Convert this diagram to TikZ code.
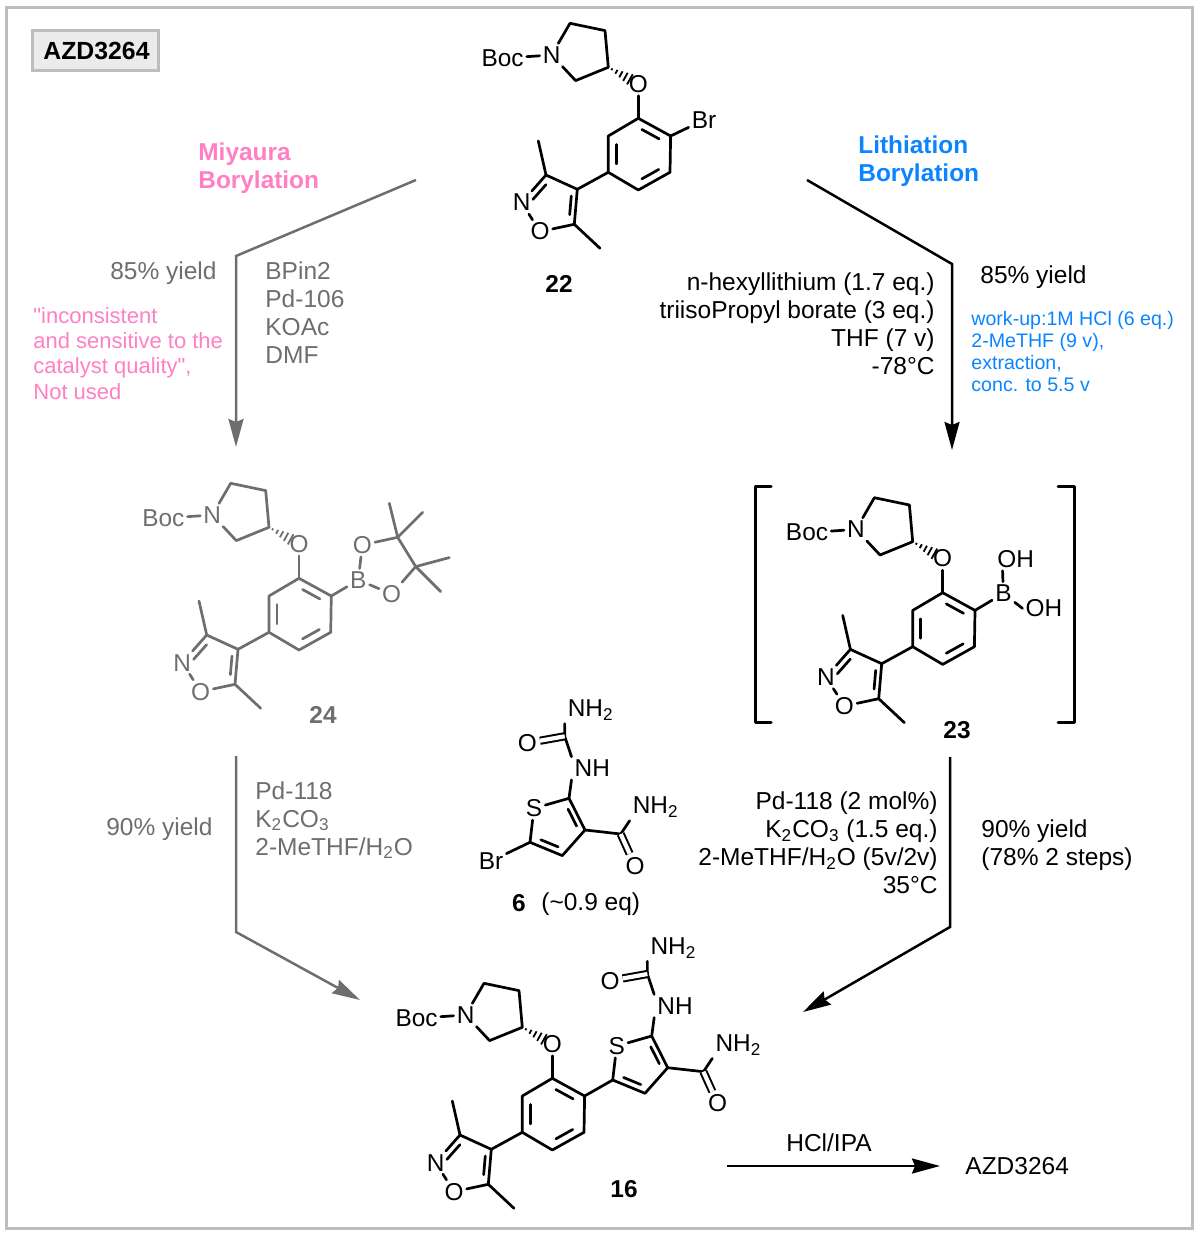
\documentclass[tikz,border=0pt]{standalone}
\usepackage{fontspec}
\setmainfont{Liberation Sans}
\newfontfamily\notefont{Liberation Sans}
\usetikzlibrary{calc}
\usetikzlibrary{arrows.meta}

\definecolor{molgrey}{HTML}{6E6E6E}
\definecolor{miyapink}{HTML}{FF7FC4}
\definecolor{lithblue}{HTML}{0A84FF}
\definecolor{framegrey}{HTML}{BDBDBD}

% inner line of a ring double bond
\newcommand{\ringdbl}[3]{\draw[bond] ($(#1)!.14!(#2)!.26!(#3)$) -- ($(#1)!.86!(#2)!.26!(#3)$);}

% hashed bond
\newcommand{\hashbond}[2]{%
\foreach \t/\w in {.12/.5,.27/1.1,.42/1.7,.57/2.3,.72/2.9}
\draw[hash] ($(#1)!\t!(#2)!\w pt!90:(#2)$) -- ($(#1)!\t!(#2)!\w pt!-90:(#2)$);}

% Boc-pyrrolidine, aryl ring and isoxazole; C1 of the ring at #1
\newcommand{\arylcore}[2]{%
\begin{scope}[shift={(#1)},name prefix=#2-]
\coordinate(ar1) at (0,0);
\coordinate(ar2) at (32.3,17.7);
\coordinate(ar3) at (31.7,54);
\coordinate(ar4) at (0,71.7);
\coordinate(ar5) at (-30,54);
\coordinate(ar6) at (-30,17.7);
\coordinate(arc) at (1,36);
\coordinate(pa) at (-68.3,-95);
\coordinate(pb) at (-33.3,-87.7);
\coordinate(cs) at (-30,-51);
\coordinate(pd) at (-62.7,-37.7);
\coordinate(isa) at (-61,71);
\coordinate(isb) at (-92.3,56.7);
\coordinate(isc) at (-64,106);
\coordinate(isz) at (-83,83);
\coordinate(mea) at (-100,22.7);
\coordinate(meb) at (-38.3,130);
\node[atom](boc) at (-135.7,-60){Boc};
\node[atom](pn) at (-86.7,-63.3){N};
\node[atom](oe) at (0,-34.3){O};
\node[atom](isn) at (-116.7,84.3){N};
\node[atom](iso) at (-98.3,113.3){O};
\draw[bond] (boc)--(pn);
\draw[bond] (pn)--(pa)--(pb)--(cs)--(pd)--(pn);
\hashbond{cs}{oe}
\draw[bond] (oe)--(ar1);
\draw[bond] (ar1)--(ar2)--(ar3)--(ar4)--(ar5)--(ar6)--cycle;
\ringdbl{ar1}{ar2}{arc}
\ringdbl{ar3}{ar4}{arc}
\ringdbl{ar5}{ar6}{arc}
\draw[bond] (ar5)--(isa);
\draw[bond] (isa)--(isb)--(isn);
\draw[bond] (isn)--(iso);
\draw[bond] (iso)--(isc)--(isa);
\ringdbl{isa}{isc}{isz}
\ringdbl{isb}{isn}{isz}
\draw[bond] (isb)--(mea);
\draw[bond] (isc)--(meb);
\end{scope}}

% urea and amide thiophene; C5 of the thiophene at #1
\newcommand{\thiocore}[2]{%
\begin{scope}[shift={(#1)},name prefix=#2-]
\coordinate(t5) at (0,0);
\coordinate(t2) at (39,-44);
\coordinate(t3) at (55,-12.3);
\coordinate(t4) at (32.3,13.3);
\coordinate(tc) at (29,-15);
\coordinate(ur) at (34.7,-106);
\coordinate(am) at (90.7,-8.3);
\node[atom](ts) at (4,-34){S};
\node[atom](nh) at (62.3,-74){NH};
\node[atom](uo) at (-2.7,-99.3){O};
\node[atom](un) at (60.7,-132){NH\textsubscript{2}};
\node[atom](ao) at (105,23.3){O};
\node[atom](an) at (125.7,-35){NH\textsubscript{2}};
\draw[bond] (t5)--(ts);
\draw[bond] (ts)--(t2);
\draw[bond] (t2)--(t3)--(t4)--(t5);
\ringdbl{t2}{t3}{tc}
\ringdbl{t4}{t5}{tc}
\draw[bond] (t2)--(nh.south west);
\draw[bond] (nh.north west)--(ur);
\draw[bond] (ur)--(un.south west);
\draw[dblbond] (ur)--(uo);
\draw[bond] (t3)--(am);
\draw[bond] (am)--(an.south west);
\draw[dblbond] (am)--(ao);
\end{scope}}

\begin{document}
\begin{tikzpicture}[%
x=.5pt,y=-.5pt,
>={Stealth[length=14pt,width=7.5pt,inset=1.5pt]},
atom/.style={inner sep=1.4pt, font=\fontsize{12.2}{14}\selectfont},
bond/.style={line width=1.35pt, line cap=round, line join=round},
dblbond/.style={line width=1pt, double, double distance=2.1pt},
hash/.style={line width=.9pt},
route/.style={line width=1.25pt, ->},
txt/.style={inner sep=0pt, font=\fontsize{12.25}{14}\selectfont, align=left, anchor=west},
txtr/.style={inner sep=0pt, font=\fontsize{12.25}{14}\selectfont, align=right, anchor=east},
num/.style={inner sep=0pt, font=\fontsize{12.2}{14}\selectfont\bfseries},
title/.style={txt, font=\fontsize{12.2}{14}\selectfont\bfseries},
]

\useasboundingbox (0,0) rectangle (1200,1235);
\draw[framegrey, line width=1.5pt] (6,8) rectangle (1192,1228);
\node[draw=framegrey, fill=black!8, line width=1.5pt, minimum width=63pt, minimum height=20pt,
inner sep=0pt, font=\fontsize{12.4}{14}\selectfont\bfseries](tag) at (95,50.5){\hspace*{1.5pt}\raisebox{-1.3pt}{AZD3264}};

% 22
\arylcore{638.3,118.3}{m22}
\node[atom](m22br) at (704,120){Br};
\draw[bond] (m22-ar2)--(m22br);
\node[num](n22) at (559,284){22};

% 23
\arylcore{942.7,592.7}{m23}
\node[atom](m23b) at (1003.4,593.4){B};
\node[atom](m23oa) at (1015.7,559){OH};
\node[atom](m23ob) at (1044,608.4){OH};
\draw[bond] (m23-ar2)--(m23b);
\draw[bond] (m23b)--(m23oa.222);
\draw[bond] (m23b)--(m23ob.west);
\node[num](n23) at (957,730){23};

\coordinate(bla) at (771,486);
\coordinate(blb) at (755,486);
\coordinate(blc) at (755,722);
\coordinate(bld) at (771,722);
\coordinate(bra) at (1058,486);
\coordinate(brb) at (1074,486);
\coordinate(brc) at (1074,722);
\coordinate(brd) at (1058,722);
\draw[bond, line width=1.5pt] (bla)--(blb)--(blc)--(bld);
\draw[bond, line width=1.5pt] (bra)--(brb)--(brc)--(brd);

% 24
\begin{scope}[molgrey]
\arylcore{299,578.3}{m24}
\node[atom](m24b) at (358.3,580){B};
\node[atom](m24oa) at (362.3,545){O};
\node[atom](m24ob) at (391.7,594){O};
\coordinate(m24qa) at (397.7,537.3);
\coordinate(m24qb) at (415.7,566.6);
\coordinate(m24ma) at (389.3,503.3);
\coordinate(m24mb) at (422.7,512.3);
\coordinate(m24mc) at (449.3,557.6);
\coordinate(m24md) at (440.7,591.6);
\draw[bond] (m24-ar2)--(m24b);
\draw[bond] (m24b)--(m24oa);
\draw[bond] (m24b)--(m24ob);
\draw[bond] (m24oa)--(m24qa)--(m24qb)--(m24ob);
\draw[bond] (m24qa)--(m24ma);
\draw[bond] (m24qa)--(m24mb);
\draw[bond] (m24qb)--(m24mc);
\draw[bond] (m24qb)--(m24md);
\node[num](n24) at (323,715){24};
\end{scope}

% 6
\thiocore{530,842.3}{m6}
\node[atom](m6br) at (491,861){Br};
\draw[bond] (m6-t5)--(m6br);
\node[num](n6) at (519,903){6};
\node[txt](n6eq) at (541,904){(\textasciitilde 0.9 eq)};

% 16
\arylcore{552.3,1078.3}{m16}
\thiocore{612.7,1080}{m16t}
\draw[bond] (m16-ar2)--(m16t-t5);
\node[num](n16) at (624,1189){16};

% routes
\coordinate(ma) at (416,180);
\coordinate(mb) at (236,256);
\coordinate(mc) at (236,447);
\draw[route, molgrey] (ma)--(mb)--(mc);

\coordinate(la) at (807,180);
\coordinate(lb) at (952,264);
\coordinate(lc) at (952,450);
\draw[route] (la)--(lb)--(lc);

\coordinate(sa) at (236,756);
\coordinate(sb) at (236,932);
\coordinate(sc) at (360,1000);
\draw[route, molgrey] (sa)--(sb)--(sc);

\coordinate(ta) at (950,757);
\coordinate(tb) at (950,927);
\coordinate(tc) at (803,1012);
\draw[route] (ta)--(tb)--(tc);

\coordinate(ha) at (727,1166);
\coordinate(hb) at (940,1166);
\draw[route] (ha)--(hb);
\node[inner sep=0pt, font=\fontsize{12.25}{14}\selectfont](hcl) at (829,1143){HCl/IPA};
\node[txt](azd) at (965,1166){AZD3264};

% text
\node[title, miyapink](miya) at (198,168.5){Miyaura\\Borylation};
\node[title, lithblue](lith) at (858,161.5){Lithiation\\Borylation};

\node[txtr, molgrey](ya) at (217,273){85\% yield};
\node[txt, molgrey](ra) at (265,313){BPin2\\Pd-106\\KOAc\\DMF};
\node[txt, miyapink, font=\fontsize{11}{12.6}\notefont](note) at (33,353.5){"inconsistent\\and sensitive to the\\catalyst quality",\\Not used};

\node[txtr](rb) at (935,324){n-hexyllithium (1.7 eq.)\\triisoPropyl borate (3 eq.)\\THF (7 v)\\-78°C};
\node[txt](yb) at (980,277){85\% yield};
\node[txt, lithblue, font=\fontsize{9.8}{11}\selectfont](work) at (971,351.5){work-up:1M HCl (6 eq.)\\2-MeTHF (9 v),\\extraction,\\conc. to 5.5 v};

\node[txtr, molgrey](yc) at (213,829){90\% yield};
\node[txt, molgrey](rc) at (255,820){Pd-118\\K\textsubscript{2}CO\textsubscript{3}\\2-MeTHF/H\textsubscript{2}O};

\node[txtr](rd) at (938,843){Pd-118 (2 mol\%)\\K\textsubscript{2}CO\textsubscript{3} (1.5 eq.)\\2-MeTHF/H\textsubscript{2}O (5v/2v)\\35°C};
\node[txt](yd) at (981,845){90\% yield\\(78\% 2 steps)};

\end{tikzpicture}
\end{document}
